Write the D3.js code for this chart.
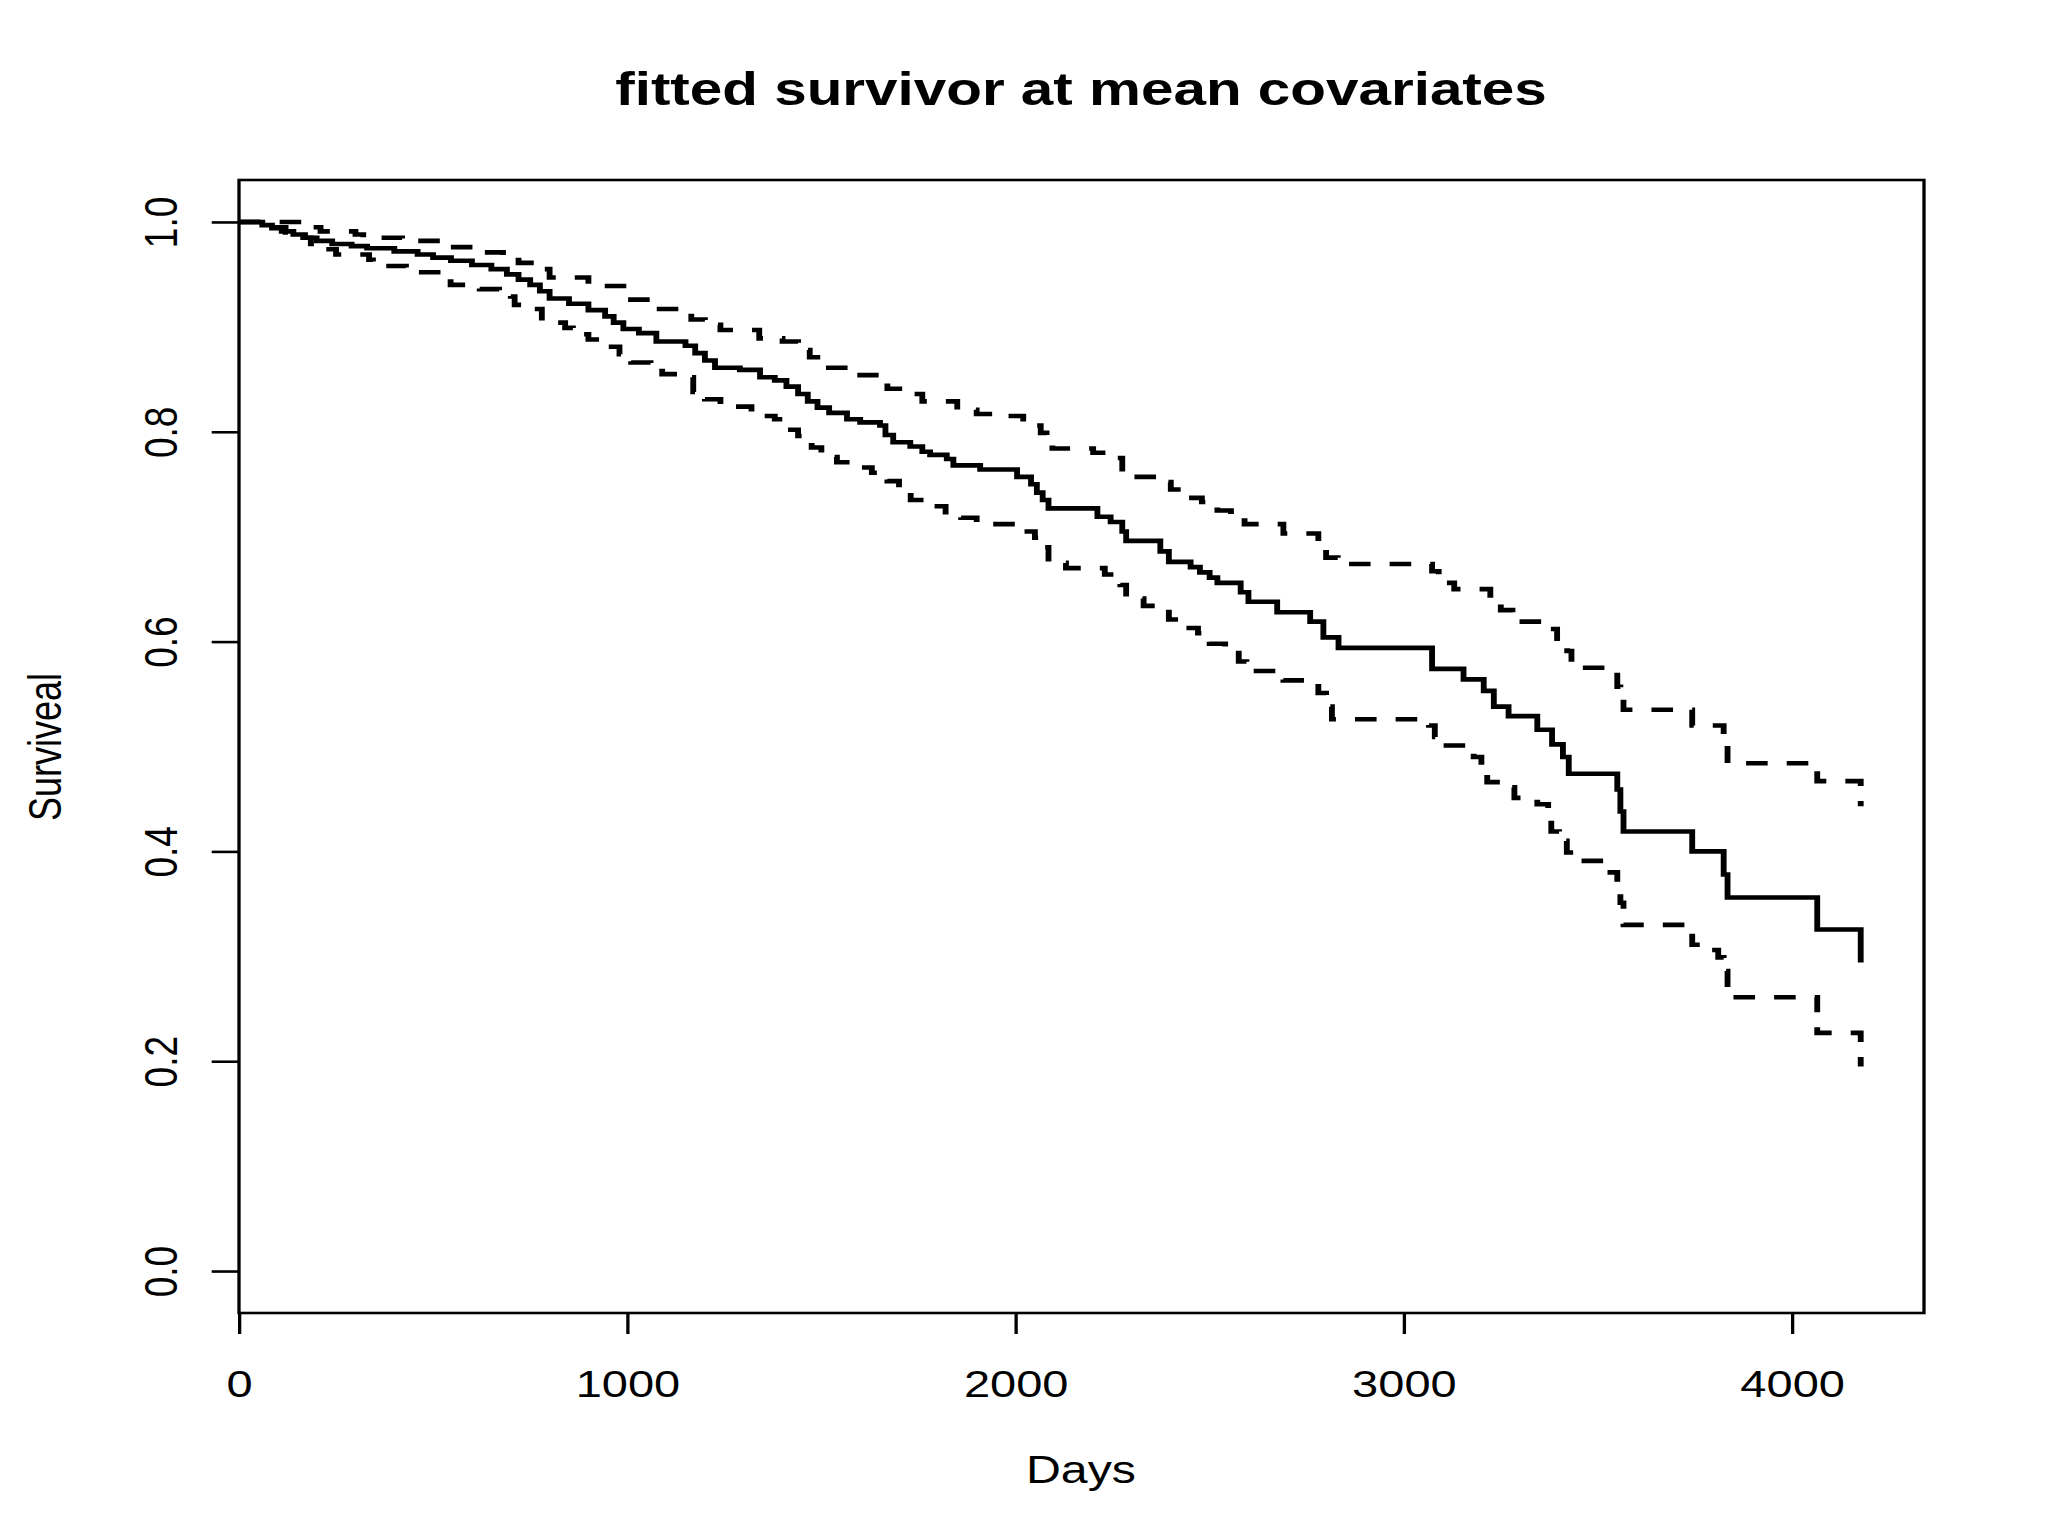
<!DOCTYPE html>
<html>
<head>
<meta charset="utf-8">
<script src="https://cdn.jsdelivr.net/npm/d3@7"></script>
<style>
  html, body { margin: 0; padding: 0; background: #fff; }
  svg { display: block; }
  text { font-family: "Liberation Sans", Arial, sans-serif; fill: #000; }
</style>
</head>
<body>
<svg id="chart"></svg>
<script>
// fitted survivor curve (step function): event days and survival after each
const fitDays = [0, 60, 85, 110, 140, 170, 200, 240, 290, 330, 400, 460, 500, 546, 600, 650, 690, 720, 750, 775,
  800, 850, 900, 943, 965, 990, 1030, 1075, 1150, 1175, 1200, 1226, 1290, 1342, 1380, 1410, 1440, 1465, 1490, 1520,
  1566, 1600, 1651, 1665, 1685, 1729, 1760, 1780, 1823, 1840, 1909, 2004, 2040, 2055, 2070, 2085, 2211, 2245, 2275, 2285,
  2373, 2395, 2451, 2475, 2500, 2520, 2580, 2600, 2674, 2759, 2793, 2832, 3073, 3154, 3206, 3232, 3270, 3344, 3382, 3410,
  3425, 3550, 3558, 3566, 3743, 3824, 3834, 4065, 4177];
const fitSurv = [1.0, 0.997, 0.994, 0.991, 0.988, 0.985, 0.982, 0.979, 0.977, 0.975, 0.972, 0.969, 0.966, 0.963, 0.959, 0.955, 0.95, 0.945, 0.94, 0.934,
  0.927, 0.922, 0.916, 0.91, 0.904, 0.898, 0.894, 0.886, 0.882, 0.875, 0.868, 0.861, 0.859, 0.852, 0.849, 0.843, 0.836, 0.829, 0.823, 0.818,
  0.812, 0.809, 0.806, 0.797, 0.79, 0.786, 0.781, 0.778, 0.774, 0.768, 0.764, 0.757, 0.75, 0.742, 0.735, 0.727, 0.719, 0.714, 0.705, 0.696,
  0.686, 0.676, 0.671, 0.666, 0.661, 0.656, 0.647, 0.638, 0.628, 0.619, 0.604, 0.594, 0.574, 0.564, 0.553, 0.538, 0.529, 0.516, 0.502, 0.49,
  0.474, 0.459, 0.438, 0.419, 0.40, 0.378, 0.356, 0.3256, 0.294];

// upper confidence limit
const upperDays = [0, 190, 210, 300, 320, 420, 520, 630, 680, 720, 760, 800, 900, 990, 1060, 1165, 1200, 1240, 1340, 1400,
  1440, 1470, 1500, 1590, 1640, 1670, 1710, 1760, 1850, 1900, 1960, 2020, 2050, 2065, 2080, 2095, 2200, 2250, 2275, 2300,
  2370, 2400, 2440, 2480, 2520, 2555, 2590, 2690, 2780, 2800, 2830, 3073, 3090, 3130, 3223, 3250, 3280, 3375, 3395, 3421,
  3432, 3530, 3550, 3558, 3566, 3743, 3824, 3834, 4065, 4177];
const upperSurv = [1.0, 0.995, 0.991, 0.988, 0.985, 0.982, 0.976, 0.971, 0.967, 0.961, 0.955, 0.947, 0.939, 0.926, 0.917, 0.907, 0.902, 0.897, 0.889, 0.886,
  0.878, 0.871, 0.861, 0.854, 0.85, 0.841, 0.836, 0.829, 0.821, 0.817, 0.815, 0.812, 0.806, 0.799, 0.79, 0.784, 0.78, 0.775, 0.762, 0.757,
  0.752, 0.745, 0.737, 0.733, 0.725, 0.721, 0.712, 0.703, 0.691, 0.68, 0.674, 0.667, 0.656, 0.65, 0.64, 0.63, 0.619, 0.612, 0.6, 0.591,
  0.575, 0.571, 0.557, 0.545, 0.535, 0.52, 0.507, 0.484, 0.467, 0.443];

// lower confidence limit
const lowerDays = [0, 95, 120, 150, 185, 205, 250, 335, 345, 430, 520, 545, 620, 670, 700, 710, 760, 780, 840, 860,
  900, 940, 980, 1010, 1060, 1090, 1140, 1170, 1200, 1240, 1320, 1380, 1410, 1440, 1475, 1500, 1540, 1600, 1630, 1670,
  1700, 1730, 1780, 1820, 1860, 1900, 2000, 2050, 2065, 2085, 2130, 2230, 2270, 2285, 2330, 2395, 2425, 2470, 2500, 2540,
  2575, 2595, 2690, 2780, 2800, 2815, 3065, 3080, 3100, 3160, 3180, 3200, 3215, 3270, 3285, 3344, 3372, 3380, 3400, 3420,
  3440, 3520, 3550, 3558, 3566, 3743, 3790, 3810, 3824, 3834, 4065, 4177];
const lowerSurv = [1.0, 0.995, 0.99, 0.985, 0.979, 0.974, 0.969, 0.964, 0.958, 0.952, 0.946, 0.94, 0.936, 0.932, 0.929, 0.921, 0.917, 0.904, 0.899, 0.893,
  0.888, 0.881, 0.874, 0.866, 0.862, 0.855, 0.852, 0.838, 0.831, 0.824, 0.815, 0.812, 0.802, 0.796, 0.785, 0.776, 0.771, 0.766, 0.761, 0.753,
  0.745, 0.735, 0.729, 0.721, 0.718, 0.712, 0.705, 0.699, 0.69, 0.675, 0.67, 0.664, 0.654, 0.641, 0.634, 0.621, 0.613, 0.608, 0.598, 0.592,
  0.581, 0.572, 0.563, 0.551, 0.538, 0.526, 0.52, 0.509, 0.501, 0.497, 0.49, 0.476, 0.466, 0.461, 0.451, 0.445, 0.438, 0.419, 0.41, 0.399,
  0.391, 0.38, 0.366, 0.351, 0.33, 0.311, 0.306, 0.299, 0.286, 0.261, 0.227, 0.195];

const xTicks = [0, 1000, 2000, 3000, 4000];
const yTicks = [0.0, 0.2, 0.4, 0.6, 0.8, 1.0];

const chartTitle = "fitted survivor at mean covariates";
const xTitle = "Days";
const yTitle = "Surviveal";

// the picture is stretched sideways, so draw in a narrower box and let the viewBox widen it
const SX = 1.27;
const W = 2048 / SX, H = 1536;

const svg = d3.select("#chart")
  .attr("width", 2048)
  .attr("height", 1536)
  .attr("viewBox", `0 0 ${W} ${H}`)
  .attr("preserveAspectRatio", "none");

svg.append("rect").attr("width", W).attr("height", H).attr("fill", "#fff");

const x = d3.scaleLinear().domain([0, 4340]).range([239 / SX, 1924 / SX]);
const y = d3.scaleLinear().domain([-0.04, 1.04]).range([1313, 180]);

// plot box
svg.append("rect")
  .attr("x", x.range()[0])
  .attr("y", y.range()[1])
  .attr("width", x.range()[1] - x.range()[0])
  .attr("height", y.range()[0] - y.range()[1])
  .attr("fill", "none")
  .attr("stroke", "#000")
  .attr("stroke-width", 2.6);

// axes
const yAxis = svg.append("g")
  .attr("transform", `translate(${x.range()[0]},0)`)
  .call(d3.axisLeft(y).tickValues(yTicks).tickFormat(d3.format(".1f")).tickSize(21.5));
yAxis.select(".domain").remove();
yAxis.selectAll(".tick line").attr("stroke", "#000").attr("stroke-width", 2.6);
yAxis.selectAll(".tick text")
  .attr("x", 0).attr("dy", 0)
  .attr("transform", "translate(-49,0) rotate(-90)")
  .attr("text-anchor", "middle")
  .style("font-size", "37px");

const xAxis = svg.append("g")
  .attr("transform", `translate(0,${y.range()[0]})`)
  .call(d3.axisBottom(x).tickValues(xTicks).tickFormat(d3.format("d")).tickSize(21));
xAxis.select(".domain").remove();
xAxis.selectAll(".tick line").attr("stroke", "#000").attr("stroke-width", 2.6);
xAxis.selectAll(".tick text")
  .attr("y", 84).attr("dy", 0)
  .style("font-size", "37px");

// curves
const line = d3.line()
  .x(d => x(d[0]))
  .y(d => y(d[1]))
  .curve(d3.curveStepAfter);

const curves = [
  { days: upperDays, surv: upperSurv, dash: "17 15" },
  { days: lowerDays, surv: lowerSurv, dash: "17 15" },
  { days: fitDays, surv: fitSurv, dash: null }
];

svg.append("g").selectAll("path")
  .data(curves)
  .join("path")
  .attr("d", c => line(d3.zip(c.days, c.surv)))
  .attr("fill", "none")
  .attr("stroke", "#000")
  .attr("stroke-width", 4.6)
  .attr("stroke-dasharray", c => c.dash);

// titles
svg.append("text")
  .attr("x", 1081 / SX).attr("y", 105)
  .attr("text-anchor", "middle")
  .style("font-size", "46px").style("font-weight", "bold")
  .text(chartTitle);

svg.append("text")
  .attr("x", 1081 / SX).attr("y", 1483)
  .attr("text-anchor", "middle")
  .style("font-size", "38px")
  .text(xTitle);

svg.append("text")
  .attr("transform", `translate(${61 / SX},747) rotate(-90)`)
  .attr("text-anchor", "middle")
  .style("font-size", "36px")
  .text(yTitle);
</script>
</body>
</html>
